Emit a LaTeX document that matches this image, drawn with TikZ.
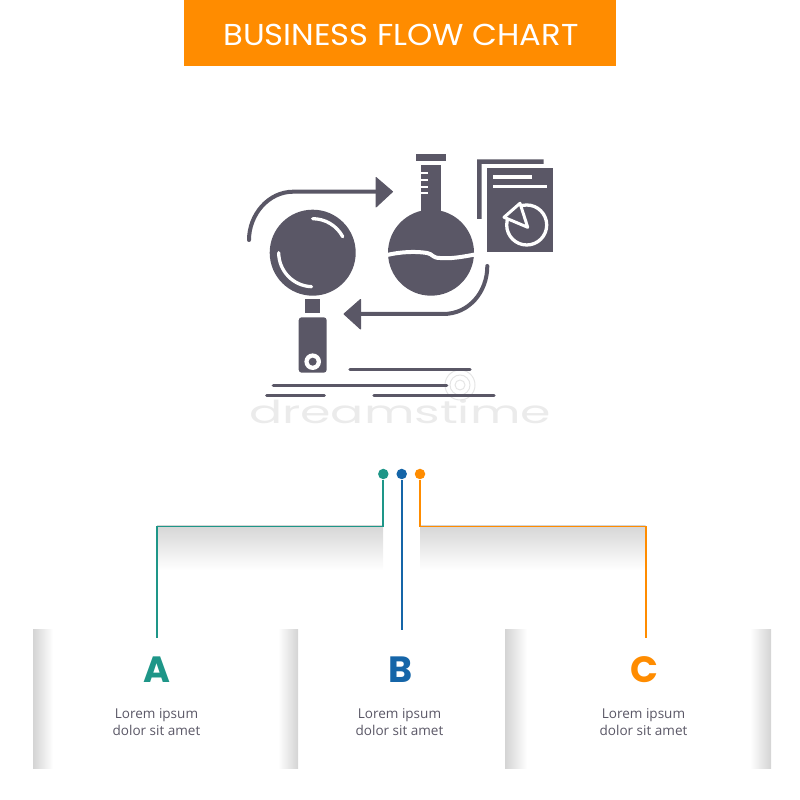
\documentclass[tikz,border=0pt]{standalone}
\usepackage{fontspec}
\setmainfont{Open Sans}
\newfontfamily\heavyfont{Poppins}[BoldFont={Poppins Bold}]
\definecolor{iconc}{HTML}{5A5766}
\definecolor{orangec}{HTML}{FF8C00}
\definecolor{tealc}{HTML}{1E9688}
\definecolor{bluec}{HTML}{1565A8}
\tikzset{
	icon/.style={fill=iconc, draw=none},
	flow/.style={line width=0.4mm, color=iconc, line cap=round},
	ground/.style={line width=0.33mm, color=iconc, line cap=round},
	glint/.style={line width=0.33mm, color=white, line cap=round},
	dot/.style={circle, inner sep=0, minimum size=0.105cm, fill=#1},
	lead/.style={line width=0.18mm, color=#1},
	letter/.style={font=\heavyfont\bfseries\fontsize{10.4}{10.4}\selectfont, color=#1},
	caption/.style={align=center, color=iconc, font=\fontsize{3.85}{4.7}\selectfont},
}
\def\glintarc(#1:#2:#3:#4:#5){\draw[glint] ($(#1,#2)+({#5*cos(#3)},{#5*sin(#3)})$) arc (#3:#4:#5);}
\usetikzlibrary{calc}

\begin{document}
\begin{tikzpicture}
		%%%%% START %%%%%
		\useasboundingbox (0, 0) rectangle (8, 8);
		
		\fill[orangec] (1.84, 7.343) rectangle (6.16, 8);
		\node[color=white, font=\heavyfont\fontsize{8.6}{8.6}\selectfont] (title) at (4.01, 7.65) {\scalebox{1.066}[1]{BUSINESS FLOW CHART}};
		
		%%%%% watermark %%%%%
		\node[color=black!8, font=\heavyfont\fontsize{9}{9}\selectfont] (mark) at (4.0, 3.88) {\scalebox{1.55}[1]{dreamstime}};
		\draw[line width=0.1mm, color=black!10] (4.6, 4.15) circle (0.15);
		\draw[line width=0.1mm, color=black!10] (4.6, 4.15) circle (0.1);
		\draw[line width=0.1mm, color=black!10] (4.6, 4.15) circle (0.05);
		
		%%%%% lens %%%%%
		\fill[icon] (3.127, 5.473) circle (0.43);
		\glintarc(3.127:5.473:90:28:0.34)
		\glintarc(3.127:5.473:180:268:0.34)
		\fill[icon] (3.053, 5.007) rectangle (3.2, 4.867);
		\fill[icon, rounded corners=0.03cm] (2.987, 4.827) rectangle (3.267, 4.273);
		\fill[white] (3.127, 4.383) circle (0.083);
		\fill[icon] (3.127, 4.383) circle (0.04);
		
		%%%%% flask %%%%%
		\fill[icon] (4.31, 5.473) circle (0.43);
		\fill[icon] (4.21, 6.35) rectangle (4.407, 5.8);
		\fill[icon] (4.16, 6.46) rectangle (4.457, 6.393);
		\foreach \y in {6.267, 6.2, 6.133, 6.067} {
			\draw[line width=0.2mm, color=white] (4.205, \y) -- (4.278, \y);
		}
		\draw[line width=0.4mm, color=white] (3.87, 5.45) .. controls (4.0, 5.48) and (4.15, 5.49) .. (4.27, 5.47) .. controls (4.33, 5.46) and (4.32, 5.42) .. (4.4, 5.42) .. controls (4.5, 5.41) and (4.62, 5.43) .. (4.75, 5.455);
		
		%%%%% papers %%%%%
		\fill[icon] (4.77, 5.81) -- (4.77, 6.407) -- (5.437, 6.407) -- (5.437, 6.36) -- (4.817, 6.36) -- (4.817, 5.81) -- cycle;
		\fill[icon] (4.867, 6.32) rectangle (5.527, 5.483);
		\draw[glint, line cap=butt] (4.933, 6.23) -- (5.317, 6.23);
		\draw[glint, line cap=butt] (4.933, 6.137) -- (5.473, 6.137);
		\draw[line width=0.33mm, color=white] (5.267, 5.75) circle (0.2);
		\draw[line width=0.3mm, color=white, fill=iconc, line join=round] (5.04, 5.827) -- (5.2, 5.967) -- (5.277, 5.727) -- cycle;
		
		%%%%% arrows %%%%%
		\draw[flow] (2.49, 5.6) .. controls (2.49, 5.85) and (2.68, 6.083) .. (2.933, 6.083) -- (3.77, 6.083);
		\fill[icon, draw=iconc, line width=0.1mm, line join=round] (3.76, 6.225) -- (3.925, 6.083) -- (3.76, 5.93) -- cycle;
		\draw[flow] (4.873, 5.34) .. controls (4.873, 5.08) and (4.69, 4.86) .. (4.433, 4.86) -- (3.6, 4.86);
		\fill[icon, draw=iconc, line width=0.1mm, line join=round] (3.605, 5.005) -- (3.44, 4.86) -- (3.605, 4.71) -- cycle;
		
		%%%%% ground %%%%%
		\draw[ground] (3.5, 4.303) -- (4.7, 4.303);
		\draw[ground] (2.733, 4.143) -- (4.467, 4.143);
		\draw[ground] (2.667, 4.043) -- (3.243, 4.043);
		\draw[ground] (3.74, 4.043) -- (4.94, 4.043);
		
		%%%%% shadows %%%%%
		\shade[top color=black!16, bottom color=white] (1.57, 2.74) rectangle (3.83, 2.3);
		\shade[top color=black!16, bottom color=white] (4.2, 2.74) rectangle (6.457, 2.3);
		\shade[left color=black!17, right color=white] (0.33, 1.7) rectangle (0.53, 0.31);
		\shade[left color=white, right color=black!17] (2.78, 1.7) rectangle (2.98, 0.31);
		\shade[left color=black!17, right color=white] (5.05, 1.7) rectangle (5.27, 0.31);
		\shade[left color=white, right color=black!17] (7.5, 1.7) rectangle (7.71, 0.31);
		
		%%%%% flow chart %%%%%
		\node[dot=tealc] (dotA) at (3.833, 3.26) {};
		\node[dot=bluec] (dotB) at (4.017, 3.26) {};
		\node[dot=orangec] (dotC) at (4.2, 3.26) {};
		
		\coordinate (bendA) at (1.57, 2.735);
		\coordinate (bendC) at (6.457, 2.735);
		\coordinate (endA) at (1.57, 1.62);
		\coordinate (endB) at (4.017, 1.7);
		\coordinate (endC) at (6.457, 1.62);
		
		\draw[lead=tealc] (dotA.south) |- (bendA) -- (endA);
		\draw[lead=bluec] (dotB.south) -- (endB);
		\draw[lead=orangec] (dotC.south) |- (bendC) -- (endC);
		
		\node[letter=tealc] (letterA) at (1.565, 1.3) {A};
		\node[letter=bluec] (letterB) at (4.005, 1.3) {B};
		\node[letter=orangec] (letterC) at (6.44, 1.3) {C};
		
		\node[caption] (textA) at (1.565, 0.78) {Lorem ipsum\\dolor sit amet};
		\node[caption] (textB) at (3.995, 0.78) {Lorem ipsum\\dolor sit amet};
		\node[caption] (textC) at (6.435, 0.78) {Lorem ipsum\\dolor sit amet};
		%%%%% END %%%%%
	\end{tikzpicture}
\end{document}
